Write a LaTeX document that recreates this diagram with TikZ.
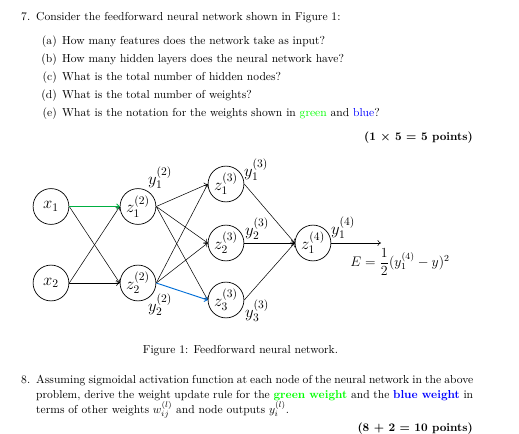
\documentclass[tikz,border=0pt]{standalone}
\usepackage{amsmath}
\usetikzlibrary{arrows.meta}
\definecolor{edgegreen}{RGB}{0,175,65}
\definecolor{edgeblue}{RGB}{0,110,215}
\definecolor{txtgreen}{RGB}{0,255,0}
\definecolor{txtblue}{RGB}{0,0,255}
\begin{document}
\begin{tikzpicture}[x=0.8651pt,y=-0.8651pt,
  neuron/.style={circle,draw,semithick,minimum size=31pt,inner sep=0pt,font=\Large},
  outlabel/.style={inner sep=0pt,font=\Large},
  txt/.style={inner sep=0pt,anchor=base west},
  txtr/.style={inner sep=0pt,anchor=base east},
  wire/.style={-{To[length=3pt,width=5pt]},line width=0.45pt},
  cwire/.style={-{To[length=3pt,width=5pt]},line width=0.8pt}]
\useasboundingbox (0,0) rectangle (519,434);
% ---- question 7 text ----
\node[txt] (n7) at (21,20.5) {7.};
\node[txt] (q7) at (36,20.5) {Consider the feedforward neural network shown in Figure 1:};
\node[txtr] (la) at (57,44) {(a)};
\node[txt] (ta) at (62,44) {How many features does the network take as input?};
\node[txtr] (lb) at (57,62) {(b)};
\node[txt] (tb) at (62,62) {How many hidden layers does the neural network have?};
\node[txtr] (lc) at (57,80) {(c)};
\node[txt] (tc) at (62,80) {What is the total number of hidden nodes?};
\node[txtr] (ld) at (57,98) {(d)};
\node[txt] (td) at (62,98) {What is the total number of weights?};
\node[txtr] (le) at (57,116) {(e)};
\node[txt] (te) at (62,116) {What is the notation for the weights shown in \textcolor{txtgreen}{green} and \textcolor{txtblue}{blue}?};
\node[txtr] (p7) at (473,140) {\textbf{\boldmath(1 $\times$ 5 $=$ 5 points)}};
% ---- network ----
\node[neuron] (x1) at (51,206.5) {$x_1$};
\node[neuron] (x2) at (51,283) {$x_2$};
\node[neuron] (h1) at (138,206.5) {$z_1^{(2)}$};
\node[neuron] (h2) at (138,283) {$z_2^{(2)}$};
\node[neuron] (k1) at (226,184) {$z_1^{(3)}$};
\node[neuron] (k2) at (226,243) {$z_2^{(3)}$};
\node[neuron] (k3) at (226,300) {$z_3^{(3)}$};
\node[neuron] (o1) at (313,243) {$z_1^{(4)}$};
\coordinate (out) at (381,243);
\node[outlabel] (yh1) at (160,178) {$y_1^{(2)}$};
\node[outlabel] (yh2) at (160,305) {$y_2^{(2)}$};
\node[outlabel] (yk1) at (256,170) {$y_1^{(3)}$};
\node[outlabel] (yk2) at (257,229) {$y_2^{(3)}$};
\node[outlabel] (yk3) at (257,311) {$y_3^{(3)}$};
\node[outlabel] (yo1) at (343,228) {$y_1^{(4)}$};
\node[inner sep=0pt,font=\large] (err) at (400,262) {$E=\dfrac{1}{2}(y_1^{(4)}-y)^2$};
\draw[wire] (x1.east) -- (h2.west);
\draw[wire] (x2.east) -- (h1.west);
\draw[wire] (x2.east) -- (h2.west);
\draw[wire] (h1.east) -- (k1.west);
\draw[wire] (h1.east) -- (k2.west);
\draw[wire] (h1.east) -- (k3.west);
\draw[wire] (h2.east) -- (k1.west);
\draw[wire] (h2.east) -- (k2.west);
\draw[wire] (k1.east) -- (o1.west);
\draw[wire] (k2.east) -- (o1.west);
\draw[wire] (k3.east) -- (o1.west);
\draw[wire] (o1.east) -- (out);
\draw[cwire,color=edgegreen] (x1.east) -- (h1.west);
\draw[cwire,color=edgeblue] (h2.east) -- (k3.west);
% ---- caption ----
\node[inner sep=0pt,anchor=base] (cap) at (240.5,353) {Figure 1: Feedforward neural network.};
% ---- question 8 ----
\node[txt] (n8) at (21,383.5) {8.};
\node[txt] (l81) at (36,383.5) {\makebox[378pt][s]{Assuming sigmoidal activation function at each node of the neural network in the above}};
\node[txt] (l82) at (36,398) {\makebox[378pt][s]{problem, derive the weight update rule for the \textcolor{txtgreen}{\textbf{green weight}} and the \textcolor{txtblue}{\textbf{blue weight}} in}};
\node[txt] (l83) at (36,413.5) {terms of other weights $w_{ij}^{(l)}$ and node outputs $y_i^{(l)}$.};
\node[txtr] (p8) at (473,431) {\textbf{\boldmath(8 $+$ 2 $=$ 10 points)}};
\end{tikzpicture}
\end{document}
